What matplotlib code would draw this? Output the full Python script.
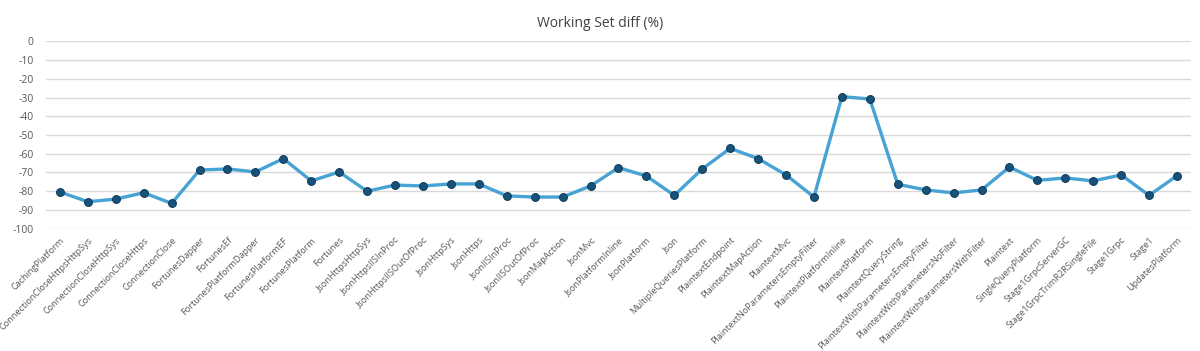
import matplotlib
matplotlib.use("Agg")
import matplotlib.pyplot as plt

categories = [
    "CachingPlatform", "ConnectionCloseHttpsHttpSys", "ConnectionCloseHttpSys",
    "ConnectionCloseHttps", "ConnectionClose", "FortunesDapper", "FortunesEf",
    "FortunesPlatformDapper", "FortunesPlatformEF", "FortunesPlatform", "Fortunes",
    "JsonHttpsHttpSys", "JsonHttpsIISInProc", "JsonHttpsIISOutOfProc", "JsonHttpSys",
    "JsonHttps", "JsonIISInProc", "JsonIISOutOfProc", "JsonMapAction", "JsonMvc",
    "JsonPlatformInline", "JsonPlatform", "Json", "MultipleQueriesPlatform",
    "PlaintextEndpoint", "PlaintextMapAction", "PlaintextMvc",
    "PlaintextNoParametersEmptyFilter", "PlaintextPlatformInline", "PlaintextPlatform",
    "PlaintextQueryString", "PlaintextWithParametersEmptyFilter",
    "PlaintextWithParametersNoFilter", "PlaintextWithParametersWithFilter", "Plaintext",
    "SingleQueryPlatform", "Stage1GrpcServerGC", "Stage1GrpcTrimR2RSingleFile",
    "Stage1Grpc", "Stage1", "UpdatesPlatform",
]
working_set_diff = [
    -80.4, -85.6, -84.2, -80.8, -86.5, -68.7, -68.1, -69.7, -62.6, -74.5, -69.7,
    -80.0, -76.7, -77.2, -76.1, -76.1, -82.5, -83.1, -83.1, -77.2, -67.4, -71.9,
    -82.2, -68.1, -57.1, -62.6, -71.3, -83.1, -29.5, -30.8, -76.3, -79.3, -80.9,
    -79.3, -67.1, -74.2, -72.9, -74.5, -71.3, -82.2, -71.7,
]
yticks = list(range(0, -101, -10))

plt.rcParams["font.family"] = ["Open Sans", "DejaVu Sans"]

fig = plt.figure(figsize=(12, 3.51), dpi=100)
ax = fig.add_axes([0.0383, 0.3484, 0.9542, 0.5339])

x = list(range(len(categories)))
ax.plot(x, working_set_diff, color="#46a3d3", lw=2.4, marker="o", ms=5.6,
        mfc="#17527a", mec="#0f3d5e", mew=0.8, zorder=3)

ax.set_xlim(-0.5, len(categories) - 0.5)
ax.set_ylim(-100, 0)
ax.set_yticks(yticks)
ax.set_yticklabels([str(v) for v in yticks])
ax.set_xticks(x)
ax.set_xticklabels(categories, rotation=45, ha="right", rotation_mode="anchor")
ax.tick_params(axis="both", length=0, labelsize=7.5, labelcolor="#595959")
ax.tick_params(axis="x", labelsize=6.6, pad=5)
ax.tick_params(axis="y", pad=9)
ax.grid(axis="y", color="#d9d9d9", lw=1)
ax.set_axisbelow(True)
for s in ax.spines.values():
    s.set_visible(False)

fig.text(0.5, 0.934, "Working Set diff (%)", ha="center", va="center",
         fontsize=10, color="#404040")

fig.savefig("out.png", dpi=100)
